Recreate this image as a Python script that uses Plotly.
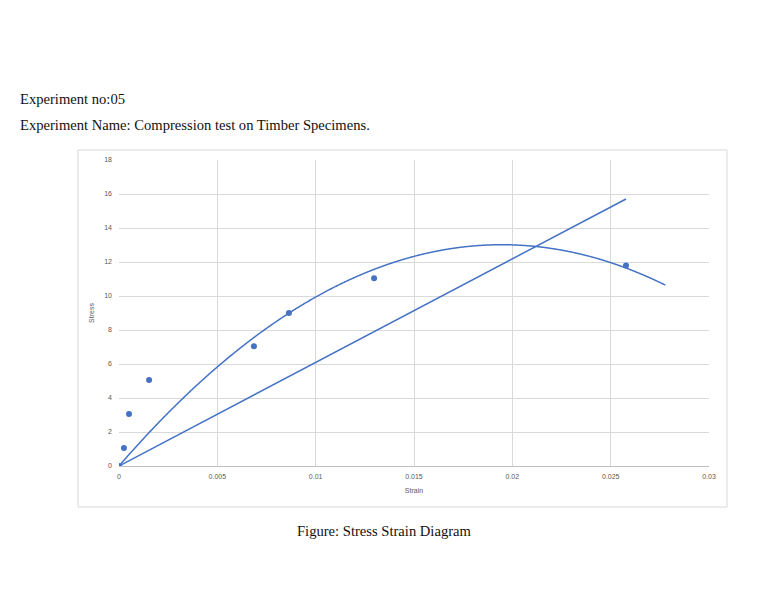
import numpy as np
import plotly.graph_objects as go

# data
strain = [0, 0.00025, 0.00051, 0.00153, 0.00686, 0.00864, 0.01297, 0.02578]
stress = [0, 1.06, 3.06, 5.06, 7.05, 9.0, 11.05, 11.8]

x_ticks = [0, 0.005, 0.01, 0.015, 0.02, 0.025, 0.03]
x_tick_text = ['0', '0.005', '0.01', '0.015', '0.02', '0.025', '0.03']
y_ticks = [0, 2, 4, 6, 8, 10, 12, 14, 16, 18]

blue = '#4472C4'
grid = '#d9d9d9'

# trendlines (Excel style, intercept set to 0)
x = np.array(strain)
y = np.array(stress)
k_lin = (x @ y) / (x @ x)
A = np.column_stack([x, x**2])
a, b = np.linalg.lstsq(A, y, rcond=None)[0]

xl = np.linspace(0, x.max(), 50)
xp = np.linspace(0, x.max() + 0.002, 600)

fig = go.Figure()
fig.add_trace(go.Scatter(x=strain, y=stress, mode='markers',
                         marker=dict(color=blue, size=6), showlegend=False))
fig.add_trace(go.Scatter(x=xl, y=k_lin * xl, mode='lines',
                         line=dict(color=blue, width=1.5), showlegend=False))
fig.add_trace(go.Scatter(x=xp, y=a * xp + b * xp**2, mode='lines',
                         line=dict(color=blue, width=1.5, shape='spline'), showlegend=False))

tick_font = dict(family='Liberation Sans, Arial', size=7, color='#595959')
fig.update_xaxes(range=[0, 0.03], tickvals=x_ticks, ticktext=x_tick_text,
                 showgrid=True, gridcolor=grid, gridwidth=1, zeroline=False,
                 showline=True, linecolor='#bfbfbf', linewidth=1,
                 tickfont=tick_font, ticks='', ticklabelstandoff=4,
                 title=dict(text='Strain', font=tick_font, standoff=8))
fig.update_yaxes(range=[0, 18], tickvals=y_ticks,
                 showgrid=True, gridcolor=grid, gridwidth=1, zeroline=False,
                 showline=False, tickfont=tick_font, ticks='', ticklabelstandoff=6,
                 title=dict(text='Stress', font=tick_font, standoff=8))

# chart frame
fig.add_shape(type='rect', xref='paper', yref='paper',
              x0=-0.0695, x1=1.0305, y0=-0.134, y1=1.0327,
              line=dict(color=grid, width=1), fillcolor='rgba(0,0,0,0)', layer='below')

serif = dict(family='Liberation Serif, Times New Roman', size=14.6, color='#111111')
fig.add_annotation(text='Experiment no:05', xref='paper', yref='paper',
                   x=(18 - 119) / 590, y=(466 - 99) / 306, xanchor='left', yanchor='middle',
                   showarrow=False, font=serif)
fig.add_annotation(text='Experiment Name: Compression test on Timber Specimens.', xref='paper', yref='paper',
                   x=(18 - 119) / 590, y=(466 - 125) / 306, xanchor='left', yanchor='middle',
                   showarrow=False, font=serif)
fig.add_annotation(text='Figure: Stress Strain Diagram', xref='paper', yref='paper',
                   x=(384 - 119) / 590, y=(466 - 531) / 306, xanchor='center', yanchor='middle',
                   showarrow=False, font=serif)

fig.update_layout(width=768, height=594, autosize=False,
                  margin=dict(l=111, r=67, t=152, b=136),
                  paper_bgcolor='white', plot_bgcolor='white')

fig.write_html("out.html")
